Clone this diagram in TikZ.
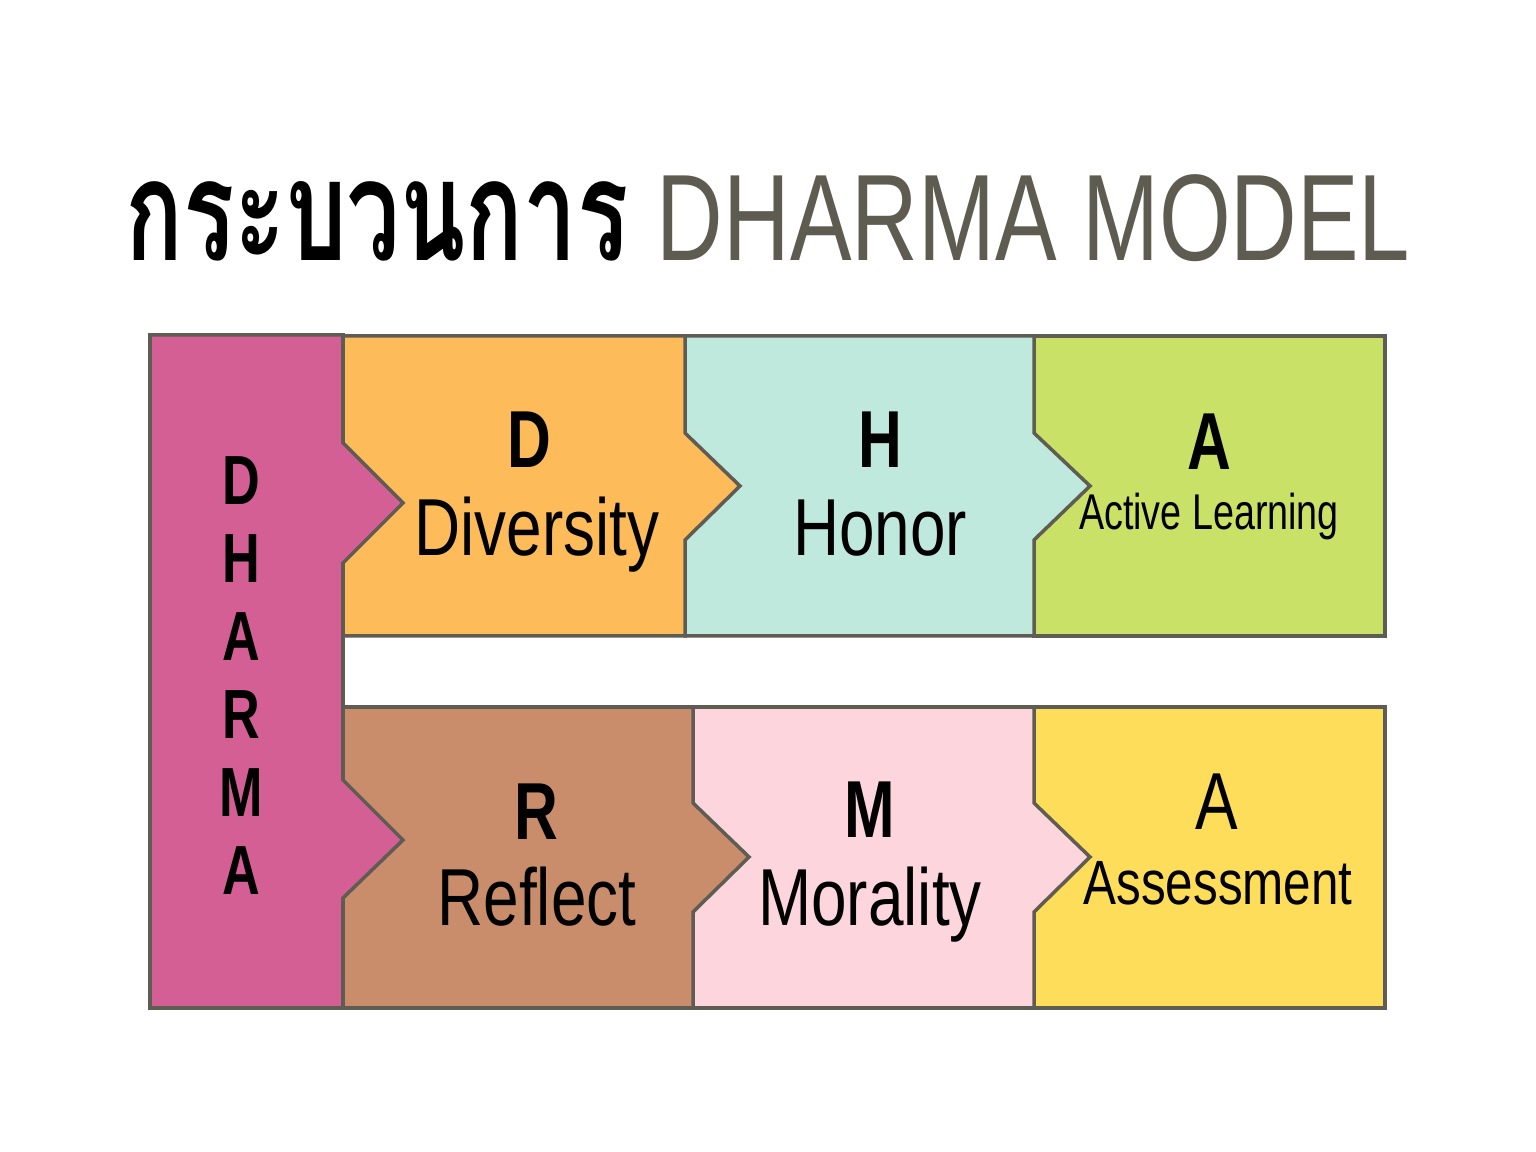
\documentclass[tikz,border=0pt]{standalone}
\usepackage{fontspec}
\usepackage{xcolor}
\newfontfamily\condfont[FakeStretch=0.75]{Liberation Sans}
\newfontfamily\wordfont[FakeStretch=0.79]{Liberation Sans}
\newfontfamily\thaifont[Script=Thai,FakeStretch=0.68]{Loma}
\definecolor{edgeGrey}{RGB}{95,92,84}
\definecolor{titleGrey}{RGB}{94,91,80}
\definecolor{dharmaPink}{RGB}{212,95,149}
\definecolor{diversityOrange}{RGB}{253,187,90}
\definecolor{honorMint}{RGB}{192,233,222}
\definecolor{activeGreen}{RGB}{201,225,102}
\definecolor{reflectBrown}{RGB}{201,141,107}
\definecolor{moralityPink}{RGB}{253,213,220}
\definecolor{assessYellow}{RGB}{254,221,90}

\begin{document}
\begin{tikzpicture}[
    x=1cm, y=1cm,
    block/.style={draw=edgeGrey, line width=1pt, line join=miter},
    letter/.style={anchor=base, inner sep=0pt, font=\condfont\bfseries\fontsize{23}{28}\selectfont},
    word/.style={anchor=base, inner sep=0pt, font=\wordfont\fontsize{23}{28}\selectfont},
    colletter/.style={anchor=base, inner sep=0pt, font=\condfont\bfseries\fontsize{19.8}{24}\selectfont}
]
\useasboundingbox[fill=white] (0,0) rectangle (15.36,11.52);

% title
\node[anchor=base, inner sep=0pt] (title) at (7.68,8.91)
    {{\thaifont\bfseries\fontsize{40}{48}\selectfont กระบวนการ}\hspace{0.28cm}{\condfont\fontsize{35}{42}\selectfont\color{titleGrey}DHARMA MODEL}};

% top row, right to left
\draw[block, fill=activeGreen] (10.34,8.16) rectangle (13.85,5.16);
\draw[block, fill=honorMint] (6.85,8.16) -- (10.34,8.16) -- (10.34,7.19) -- (10.90,6.66)
    -- (10.34,6.12) -- (10.34,5.16) -- (6.85,5.16) -- cycle;
\draw[block, fill=diversityOrange] (3.43,8.16) -- (6.85,8.16) -- (6.85,7.19) -- (7.40,6.66)
    -- (6.85,6.12) -- (6.85,5.16) -- (3.43,5.16) -- cycle;

% bottom row, right to left
\draw[block, fill=assessYellow] (10.34,4.45) rectangle (13.85,1.44);
\draw[block, fill=moralityPink] (6.93,4.45) -- (10.34,4.45) -- (10.34,3.49) -- (10.90,2.95)
    -- (10.34,2.40) -- (10.34,1.44) -- (6.93,1.44) -- cycle;
\draw[block, fill=reflectBrown] (3.43,4.45) -- (6.93,4.45) -- (6.93,3.49) -- (7.49,2.95)
    -- (6.93,2.40) -- (6.93,1.44) -- (3.43,1.44) -- cycle;

% DHARMA column
\draw[block, fill=dharmaPink] (1.50,8.17) -- (3.43,8.17) -- (3.43,7.09) -- (4.03,6.49)
    -- (3.43,5.89) -- (3.43,3.72) -- (4.03,3.12) -- (3.43,2.54) -- (3.43,1.44)
    -- (1.50,1.44) -- cycle;

\foreach \ltr [count=\i] in {D,H,A,R,M,A}
    \node[colletter] (col\i) at (2.41,{6.47-0.78*(\i-1)}) {\ltr};

% labels
\node[letter] (dLetter) at (5.29,6.84) {D};
\node[word] (diversity) at (5.37,5.96) {Diversity};
\node[letter] (hLetter) at (8.80,6.84) {H};
\node[word] (honor) at (8.80,5.96) {Honor};
\node[letter] (aLetter) at (12.09,6.82) {A};
\node[word, font=\condfont\fontsize{14.3}{17}\selectfont] (active) at (12.09,6.22) {Active Learning};
\node[letter] (rLetter) at (5.36,3.12) {R};
\node[word] (reflect) at (5.37,2.26) {Reflect};
\node[letter] (mLetter) at (8.70,3.14) {M};
\node[word] (morality) at (8.70,2.26) {Morality};
\node[word] (aLetterTwo) at (12.17,3.22) {A};
\node[word, font=\wordfont\fontsize{17.8}{21}\selectfont] (assessment) at (12.18,2.47) {Assessment};

\end{tikzpicture}
\end{document}
